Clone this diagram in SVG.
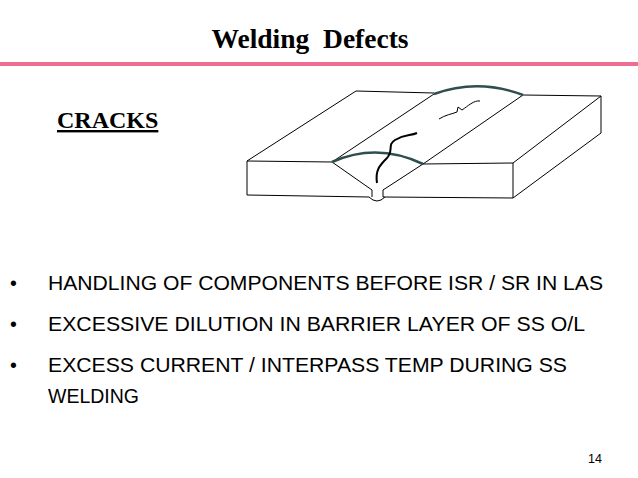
<svg xmlns="http://www.w3.org/2000/svg" width="638" height="478" viewBox="0 0 638 478">
<style>
.s{fill:none;stroke:#000;stroke-width:1}
.w{fill:none;stroke:#2f4f4f;stroke-width:2.5}
.c{fill:none;stroke:#000;stroke-width:2}
.b{font-family:"Liberation Sans",Arial,sans-serif;font-size:19.5px;fill:#000}
</style>
<rect width="638" height="478" fill="#fff"/>
<g id="title"><text x="310" y="48" text-anchor="middle" font-family="Liberation Serif,serif" font-weight="bold" font-size="27.5" xml:space="preserve">Welding  Defects</text>
<line x1="0" y1="64" x2="638" y2="64" stroke="#F06B92" stroke-width="4"/></g>
<g id="cracks-label"><text x="57" y="128" font-family="Liberation Serif,serif" font-weight="bold" font-size="24" text-decoration="underline">CRACKS</text></g>
<g id="plate">
<path class="s" d="M247,161 L356,91 L434,93 M247,161 L332,162 M423,164 L513,163 L601,96 L523,95 M247,161 L247,195 L369,197 M383,197 L513,198 L601,133 L601,96 M513,163 L513,198 M332,162 L434,94 M423,164 L523,95 M332,162 L372,190 L372,197 M423,164 L383,190 L383,197 M369,197 Q377,205 385,197"/>
<path class="w" d="M332,162 Q377,142 423,164"/>
<path class="w" d="M434,94 Q478,78 523,95"/>
<path class="c" d="M377,183 C375,170 380,165 387,158 C394,150 387,145 395,140 C405,134 410,136 417,133"/>
<path class="s" d="M439,119 C445,115 452,114 457,112 L458,107 L462,110 C468,106 474,100 480,101"/>
</g>
<g id="bullets">
<text class="b" x="10" y="290">•</text><text class="b" x="48" y="290" textLength="555" lengthAdjust="spacingAndGlyphs">HANDLING OF COMPONENTS BEFORE ISR / SR IN LAS</text>
<text class="b" x="10" y="331">•</text><text class="b" x="48" y="331" textLength="537" lengthAdjust="spacingAndGlyphs">EXCESSIVE DILUTION IN BARRIER LAYER OF SS O/L</text>
<text class="b" x="10" y="372">•</text><text class="b" x="48" y="372" textLength="519" lengthAdjust="spacingAndGlyphs">EXCESS CURRENT / INTERPASS TEMP DURING SS</text>
<text class="b" x="48" y="403">WELDING</text>
</g>
<text x="588" y="463" font-family="Liberation Sans,Arial,sans-serif" font-size="12.5">14</text>
</svg>
